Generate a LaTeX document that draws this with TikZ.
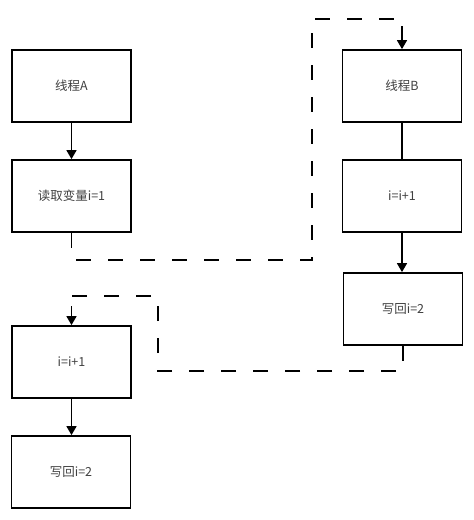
\documentclass[tikz,border=0pt]{standalone}
\usepackage{fontspec}
\newfontfamily\cjk{Noto Sans CJK SC}
\usetikzlibrary{arrows.meta}
\begin{document}
\begin{tikzpicture}[x=1pt,y=-1pt,
  box/.style={draw=black,line width=1.8pt,minimum width=119pt,minimum height=72pt,inner sep=0pt,
    font=\cjk\fontsize{12.5}{14}\selectfont,text=black!75},
  conn/.style={line width=1.6pt,draw=black},
  arr/.style={conn,-{Triangle[width=10pt,length=9pt]}},
  dashline/.style={conn,dash pattern=on 15pt off 17pt}]
\useasboundingbox (0,0) rectangle (474,520);
\node[box] (A)  at (71.5,86)  {线程A};
\node[box] (R)  at (71.5,196) {读取变量i=1};
\node[box] (B)  at (402,86)   {线程B};
\node[box] (Bi) at (402,196)  {i=i+1};
\node[box] (Bw) at (403,309)  {写回i=2};
\node[box] (Ai) at (71.5,362) {i=i+1};
\node[box] (Aw) at (71,472)   {写回i=2};
\coordinate (c1) at (71.5,260);
\coordinate (c2) at (312,260);
\coordinate (c3) at (312,19);
\coordinate (c4) at (402,19);
\coordinate (c5) at (402,26);
\coordinate (d1) at (403,371);
\coordinate (d2) at (158,371);
\coordinate (d3) at (158,296);
\coordinate (d4) at (71.5,296);
\coordinate (d5) at (71.5,306);
\draw[arr] (A) -- (R);
\draw[conn] (B) -- (Bi);
\draw[arr] (Bi.south) -- (Bi.south |- Bw.north);
\draw[arr] (Ai) -- (Ai.south |- Aw.north);
\draw[dashline] (R.south) -- (c1) -- (c2) -- (c3) -- (c4);
\draw[arr] (c5) -- (B.north);
\draw[dashline] (Bw.south) -- (d1) -- (d2) -- (d3) -- (d4);
\draw[arr] (d5) -- (Ai.north);
\end{tikzpicture}
\end{document}
